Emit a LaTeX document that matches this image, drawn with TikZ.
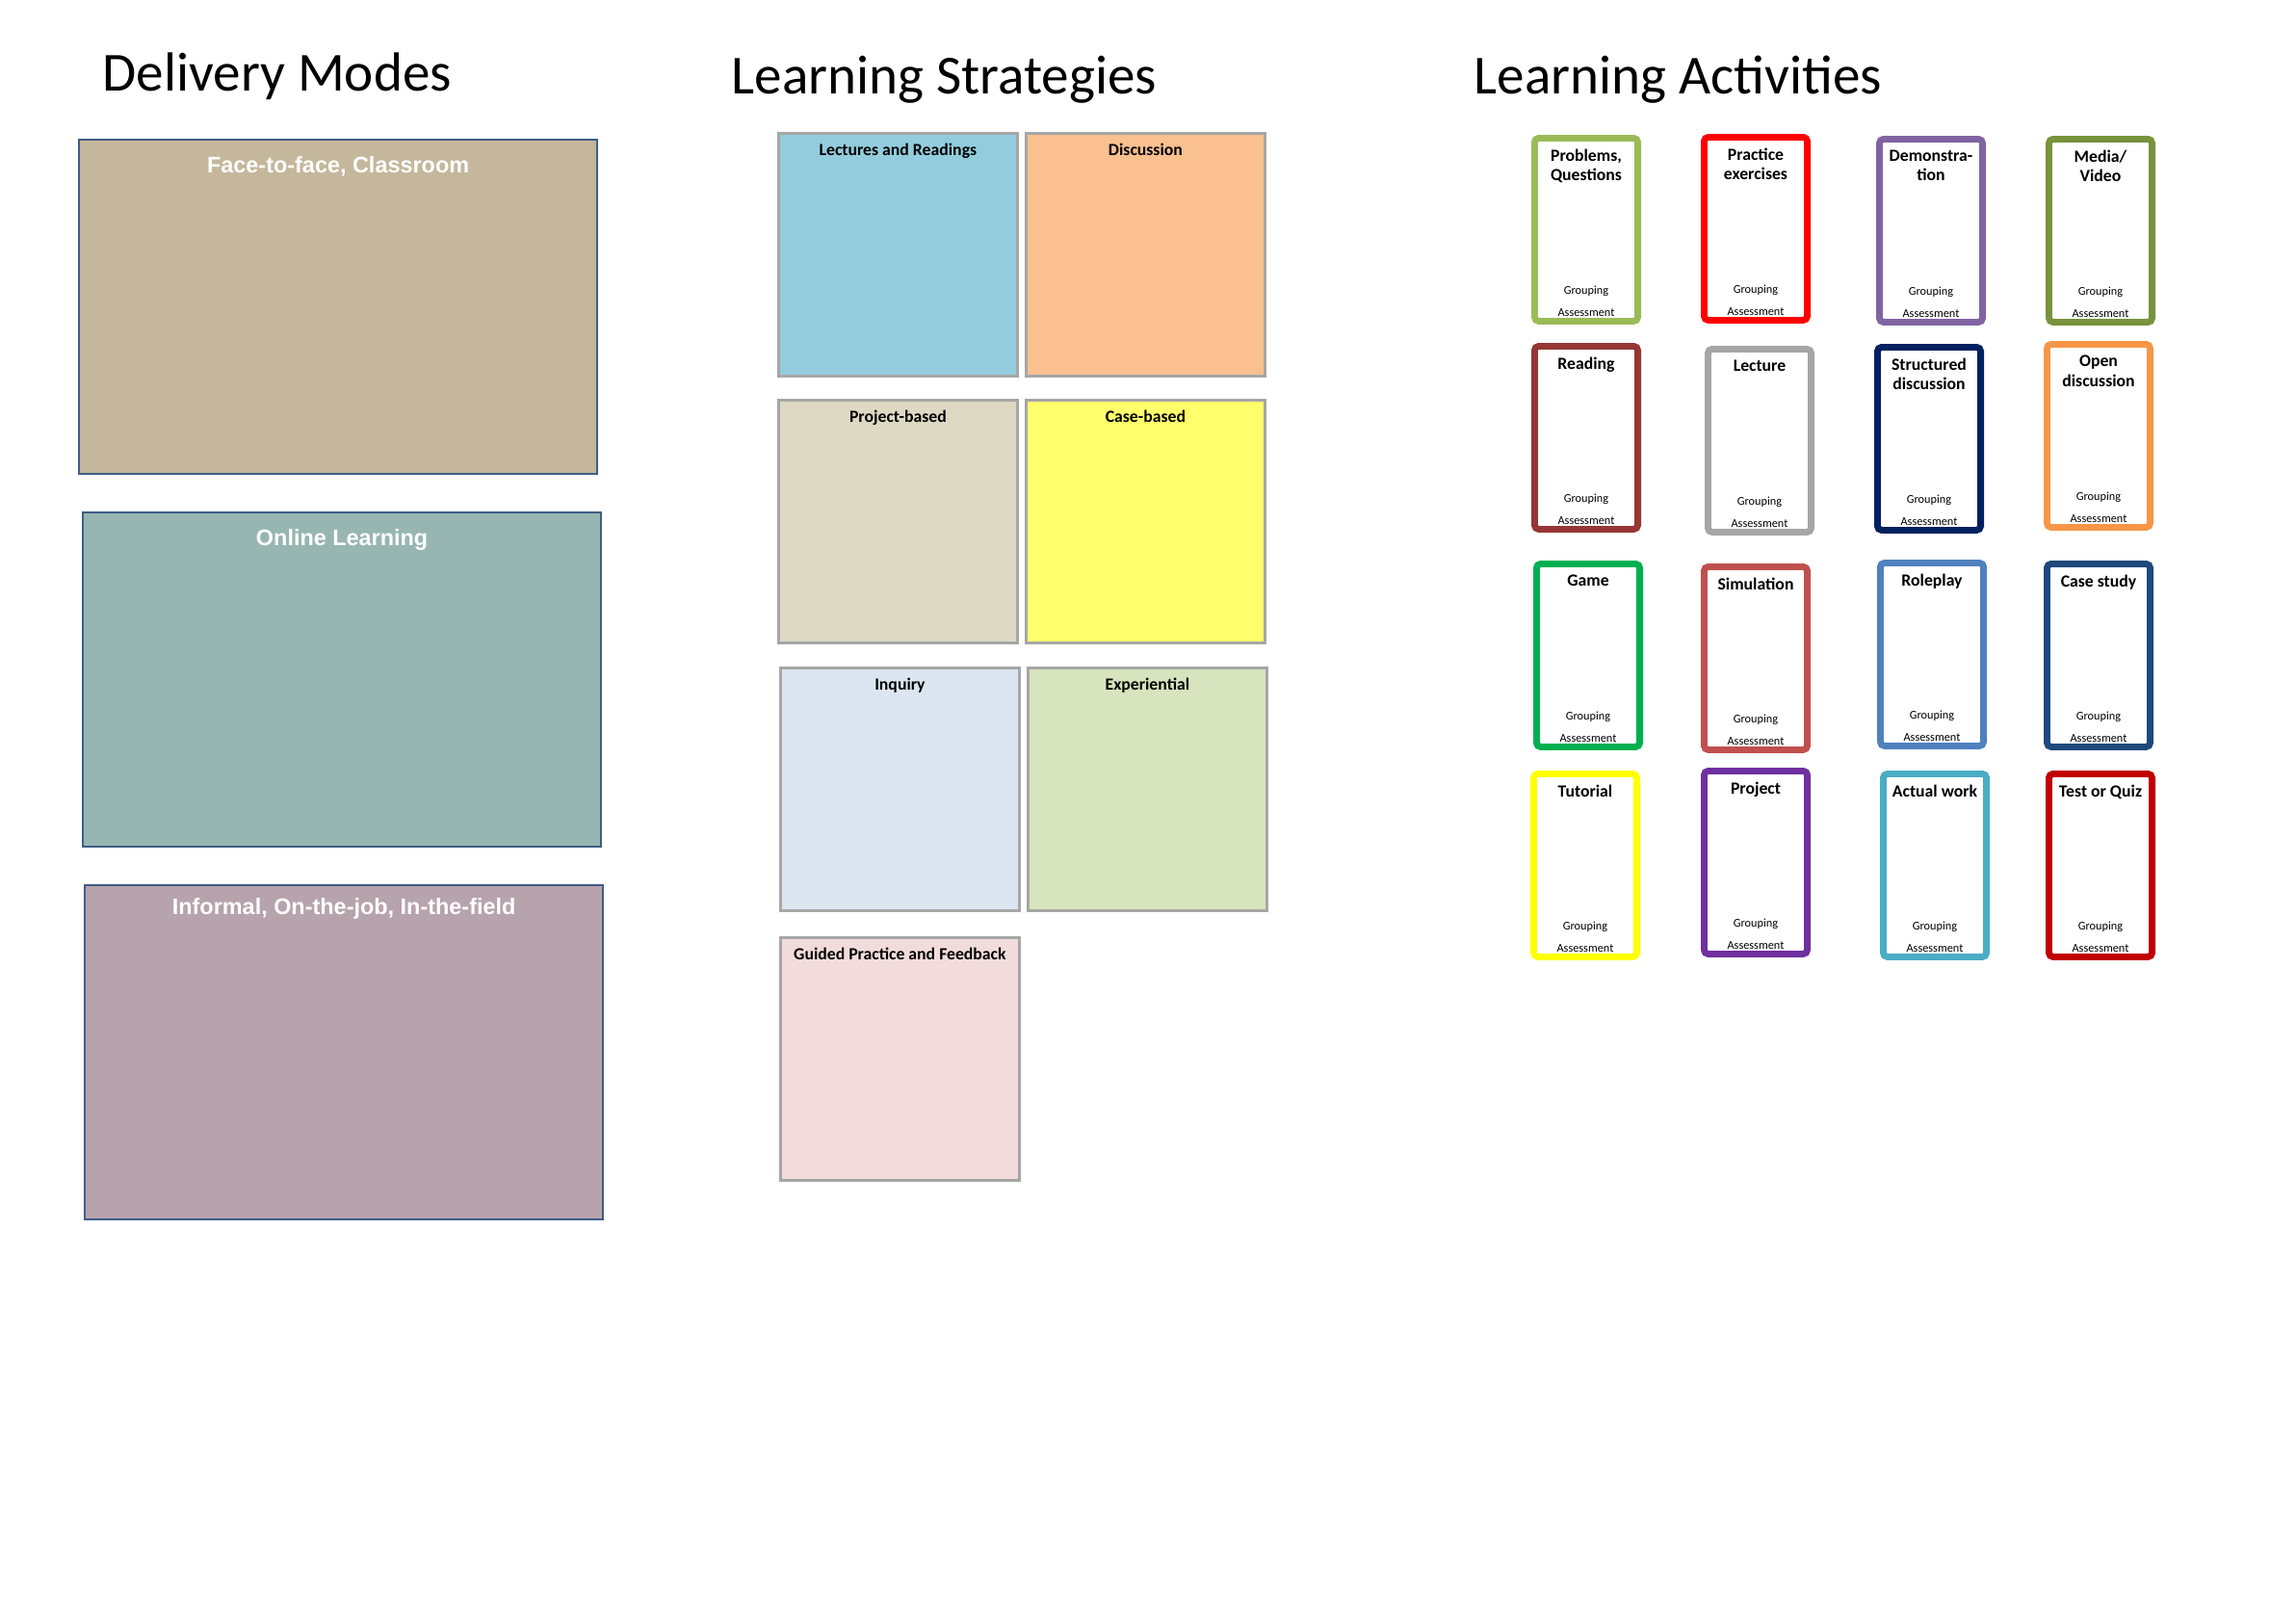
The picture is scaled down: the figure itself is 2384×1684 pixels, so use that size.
\documentclass[tikz,border=0pt]{standalone}
\usepackage{fontspec}
\setmainfont{Carlito}
\newfontfamily\arialfont{Liberation Sans}
\usepackage{tikz}
\usetikzlibrary{positioning}

\definecolor{dmborder}{HTML}{3F5E86}
\definecolor{dmface}{HTML}{C4B79B}
\definecolor{dmonline}{HTML}{97B6B2}
\definecolor{dminformal}{HTML}{B7A3AB}
\definecolor{lsborder}{HTML}{A6A6A6}
\definecolor{lslect}{HTML}{93CDDD}
\definecolor{lsdisc}{HTML}{FAC090}
\definecolor{lsproj}{HTML}{DDD9C3}
\definecolor{lscase}{HTML}{FFFF6B}
\definecolor{lsinq}{HTML}{DCE6F2}
\definecolor{lsexp}{HTML}{D7E4BD}
\definecolor{lsguid}{HTML}{F2DCDB}
\definecolor{laolive}{HTML}{9BBB59}
\definecolor{lared}{HTML}{FF0000}
\definecolor{lapurple}{HTML}{8064A2}
\definecolor{lamoss}{HTML}{77933C}
\definecolor{lamaroon}{HTML}{953735}
\definecolor{lagray}{HTML}{A6A6A6}
\definecolor{lanavy}{HTML}{002060}
\definecolor{laorange}{HTML}{F79646}
\definecolor{lagreen}{HTML}{00B050}
\definecolor{labrick}{HTML}{C0504D}
\definecolor{lablue}{HTML}{4F81BD}
\definecolor{ladeep}{HTML}{1F497D}
\definecolor{layellow}{HTML}{FFFF00}
\definecolor{laviolet}{HTML}{7030A0}
\definecolor{lateal}{HTML}{4BACC6}
\definecolor{lacrimson}{HTML}{C00000}

\begin{document}
\begin{tikzpicture}[x=0.35pt,y=-0.35pt,
  heading/.style={anchor=base west,inner sep=0pt,font=\fontsize{20}{24}\selectfont},
  modebox/.style={draw=dmborder,line width=0.8pt,fill=#1,anchor=north west,inner sep=0pt,
    minimum width=188.3pt,minimum height=121.5pt},
  modelabel/.style={inner sep=0pt,text=white,font=\arialfont\bfseries\fontsize{8.2}{10}\selectfont},
  stratbox/.style={draw=lsborder,line width=1pt,fill=#1,anchor=north west,inner sep=0pt,
    minimum width=86.8pt,minimum height=88.2pt},
  stratlabel/.style={inner sep=0pt,font=\bfseries\fontsize{6.2}{7.5}\selectfont},
  card/.style={draw=#1,line width=2.4pt,rounded corners=1.5pt,fill=white,anchor=north west,
    inner sep=0pt,minimum width=37.5pt,minimum height=66.5pt},
  cardtitle/.style={inner sep=0pt,align=center,font=\bfseries\fontsize{6.2}{7.2}\selectfont},
  cardsmall/.style={inner sep=0pt,font=\fontsize{4.3}{5}\selectfont}]
\useasboundingbox (0,0) rectangle (2384,1684);

% column headings
\node[heading] (dmhead) at (106,94) {Delivery Modes};
\node[heading] (lshead) at (759,97) {Learning Strategies};
\node[heading] (lahead) at (1530,97) {Learning Activities};

% delivery modes
\node[modebox=dmface] (face) at (81,144) {};
\node[modelabel, below=6.2pt of face.north] (facet) {Face-to-face, Classroom};
\node[modebox=dmonline] (online) at (85,531) {};
\node[modelabel, below=6.2pt of online.north] (onlinet) {Online Learning};
\node[modebox=dminformal] (informal) at (87,918) {};
\node[modelabel, below=4.8pt of informal.north] (informalt) {Informal, On-the-job, In-the-field};

% learning strategies
\node[stratbox=lslect] (lect) at (807,137) {};
\node[stratlabel, below=4pt of lect.north] (lectt) {Lectures and Readings};
\node[stratbox=lsdisc] (disc) at (1064,137) {};
\node[stratlabel, below=4pt of disc.north] (disct) {Discussion};
\node[stratbox=lsproj] (proj) at (807,414) {};
\node[stratlabel, below=4pt of proj.north] (projt) {Project-based};
\node[stratbox=lscase] (casb) at (1064,414) {};
\node[stratlabel, below=4pt of casb.north] (casbt) {Case-based};
\node[stratbox=lsinq] (inq) at (809,692) {};
\node[stratlabel, below=4pt of inq.north] (inqt) {Inquiry};
\node[stratbox=lsexp] (expr) at (1066,692) {};
\node[stratlabel, below=4pt of expr.north] (exprt) {Experiential};
\node[stratbox=lsguid] (guid) at (809,972) {};
\node[stratlabel, below=4pt of guid.north] (guidt) {Guided Practice and Feedback};

% learning activity cards
\foreach \n/\x/\y/\col/\txt in {
  probq/1590/140/laolive/{Problems,\\Questions},
  pract/1766/139/lared/{Practice\\exercises},
  demo/1948/141/lapurple/{Demonstra-\\tion},
  media/2124/141/lamoss/{Media/\\Video},
  read/1590/356/lamaroon/{Reading},
  lecture/1770/359/lagray/{Lecture},
  sdisc/1946/357/lanavy/{Structured\\discussion},
  odisc/2122/354/laorange/{Open\\discussion},
  game/1592/582/lagreen/{Game},
  simu/1766/585/labrick/{Simulation},
  role/1949/581/lablue/{Roleplay},
  cstudy/2122/582/ladeep/{Case study},
  tutor/1589/800/layellow/{Tutorial},
  projc/1766/797/laviolet/{Project},
  work/1952/800/lateal/{Actual work},
  quiz/2124/800/lacrimson/{Test or Quiz}}
{
  \node[card=\col] (\n) at (\x,\y) {};
  \node[cardtitle, below=5pt of \n.north] (\n-title) {\txt};
  \node[cardsmall, above=10pt of \n.south] (\n-grp) {Grouping};
  \node[cardsmall, above=2.6pt of \n.south] (\n-ass) {Assessment};
}
\end{tikzpicture}
\end{document}
